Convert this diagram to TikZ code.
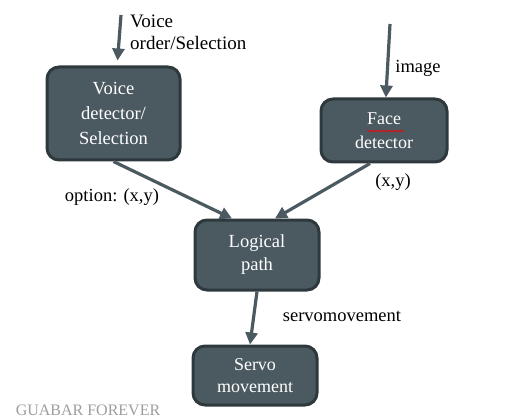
\documentclass[tikz,border=0pt]{standalone}
\usepackage{fontspec}
\setmainfont{Liberation Serif}
\newfontfamily\serf{Liberation Serif}
\usetikzlibrary{arrows.meta,decorations.pathmorphing}
\definecolor{boxfill}{HTML}{4B5961}
\definecolor{boxline}{HTML}{2E393E}
\definecolor{arrcol}{HTML}{4B5961}
\begin{document}
\begin{tikzpicture}[x=1pt,y=-1pt,
  blk/.style={draw=boxline,fill=boxfill,line width=3pt,rounded corners=12pt,
    text=white,align=center,inner sep=0pt,font=\serf\fontsize{18}{24}\selectfont},
  arr/.style={draw=arrcol,line width=3.2pt,-{Triangle[length=12pt,width=12pt]}},
  lbl/.style={font=\serf\fontsize{18.5}{22}\selectfont,inner sep=0pt}]
\useasboundingbox[fill=white] (0,0) rectangle (515,420);
% blocks
\node[blk,minimum width=133pt,minimum height=93pt,font=\serf\fontsize{18.5}{25}\selectfont] (voice) at (113.5,113.5) {Voice\\detector/\\Selection};
\node[blk,minimum width=126pt,minimum height=63pt] (face) at (384,130.5) {Face\\detector};
\node[blk,minimum width=124pt,minimum height=70pt,font=\serf\fontsize{18.5}{23}\selectfont] (logic) at (257,255) {Logical\\path};
\node[blk,minimum width=124pt,minimum height=59pt,font=\serf\fontsize{18}{22}\selectfont] (servo) at (255,375.5) {Servo\\movement};
% spell-check squiggle under "Face"
\coordinate (sq1) at (367,131);
\coordinate (sq2) at (404,131);
\draw[red,line width=0.6pt,decorate,decoration={snake,amplitude=0.9pt,segment length=3pt}] (sq1) -- (sq2);
% input coordinates
\coordinate (vin) at (121,15);
\coordinate (fin) at (390,24);
% connectors
\draw[arr,shorten >=5pt] (vin) -- (voice);
\draw[arr] (fin) -- (face);
\draw[arr] (voice.south) -- ([xshift=-25pt]logic.north);
\draw[arr] ([xshift=-14pt]face.south) -- ([xshift=18pt]logic.north);
\draw[arr] (logic.south) -- ([xshift=-5pt]servo.north);
% labels
\node[lbl,anchor=west,align=left,font=\serf\fontsize{19}{22}\selectfont] (lvoice) at (130,32) {Voice\\order/Selection};
\node[lbl] (limage) at (418,68) {image};
\node[lbl] (lopt) at (112,197) {option: (x,y)};
\node[lbl] (lxy) at (393,182) {(x,y)};
\node[lbl] (lservo) at (342,316) {servomovement};
\node[lbl,text=black!38,font=\serf\fontsize{16}{18}\selectfont] (lmark) at (88,410) {GUABAR FOREVER};
\end{tikzpicture}
\end{document}
